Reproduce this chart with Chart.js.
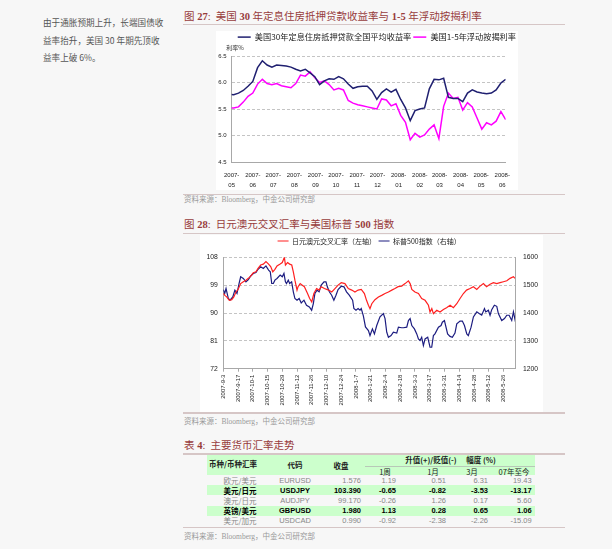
<!DOCTYPE html>
<html><head><meta charset="utf-8">
<script src="https://cdn.jsdelivr.net/npm/chart.js@4.4.1/dist/chart.umd.min.js"></script>
<style>
body{margin:0;width:612px;height:549px;background:#f7f7f7;position:relative;overflow:hidden;font-family:'Liberation Sans','Noto Sans CJK SC',sans-serif}
.abs{position:absolute;white-space:nowrap}
.para{left:43px;top:14.4px;font-size:8.6px;line-height:17.2px;color:#555;font-family:'Noto Sans CJK SC',sans-serif}
.title{left:184px;font-size:10.5px;line-height:13px;color:#983c3c;font-family:'Liberation Serif','Noto Sans CJK SC',serif}
.rule{left:183px;width:382px;height:1.5px;background:#d6c6c6}
.panel{background:#fff}
.src{left:184px;font-size:7.5px;line-height:9px;color:#999;font-family:'Liberation Serif','Noto Sans CJK SC',serif}
.green{background:#ccffcc}
.tc{font-size:7.5px;line-height:9px;color:#888}
.th{font-size:7.5px;line-height:9px;color:#222;font-weight:bold;font-family:'Noto Sans CJK SC',sans-serif}
</style></head>
<body>
<div class="abs para">由于通胀预期上升，长端国债收<br>益率抬升，美国 30 年期先顶收<br>益率上破 6%。</div>

<div class="abs title" style="top:9.5px">图 <b>27</b>:&nbsp; 美国 <b>30</b> 年定息住房抵押贷款收益率与 <b>1-5</b> 年浮动按揭利率</div>
<div class="abs rule" style="top:23.5px"></div>
<div class="abs panel" style="left:216px;top:31px;width:302px;height:159px"><canvas id="c1" width="302" height="159"></canvas></div>
<div class="abs rule" style="top:193.5px"></div>
<div class="abs src" style="top:194.5px">资料来源：Bloomberg，中金公司研究部</div>

<div class="abs title" style="top:217.5px">图 <b>28</b>:&nbsp; 日元澳元交叉汇率与美国标普 <b>500</b> 指数</div>
<div class="abs rule" style="top:232.5px"></div>
<div class="abs panel" style="left:200px;top:235px;width:343px;height:177px"><canvas id="c2" width="343" height="177"></canvas></div>
<div class="abs rule" style="top:412px"></div>
<div class="abs src" style="top:417px">资料来源：Bloomberg，中金公司研究部</div>

<div class="abs title" style="top:438.5px">表 <b>4</b>:&nbsp; 主要货币汇率走势</div>
<div class="abs rule" style="top:453px"></div>
<div id="tbl"></div>
<div class="abs rule" style="top:526.5px"></div>
<div class="abs src" style="top:531.5px">资料来源：Bloomberg，中金公司研究部</div>

<script>
// ---------- Chart 1 data (weekly) ----------
const mortDates = ['2007-04-27','2007-05-04','2007-05-11','2007-05-18','2007-05-25','2007-06-01','2007-06-08','2007-06-15','2007-06-22','2007-06-29',
 '2007-07-06','2007-07-13','2007-07-20','2007-07-27','2007-08-03','2007-08-10','2007-08-17','2007-08-24','2007-08-31','2007-09-07',
 '2007-09-14','2007-09-21','2007-09-28','2007-10-05','2007-10-12','2007-10-19','2007-10-26','2007-11-02','2007-11-09','2007-11-16',
 '2007-11-23','2007-11-30','2007-12-07','2007-12-14','2007-12-21','2007-12-28','2008-01-04','2008-01-11','2008-01-18','2008-01-25',
 '2008-02-01','2008-02-08','2008-02-15','2008-02-22','2008-02-29','2008-03-07','2008-03-14','2008-03-21','2008-03-28','2008-04-04',
 '2008-04-11','2008-04-18','2008-04-25','2008-05-02','2008-05-09','2008-05-16','2008-05-23','2008-05-30','2008-06-06'];
const mort30Fixed = [5.78,5.77,5.80,5.85,5.93,6.02,6.28,6.41,6.33,6.29,
 6.33,6.32,6.31,6.29,6.25,6.22,6.25,6.18,6.11,5.96,
 6.03,6.07,6.06,6.11,6.07,5.97,5.89,5.92,5.93,5.93,
 5.84,5.68,5.81,5.88,5.82,5.87,5.68,5.52,5.28,5.47,
 5.50,5.52,5.88,6.06,6.05,6.08,5.72,5.70,5.70,5.64,
 5.80,5.86,5.82,5.80,5.79,5.80,5.86,5.99,6.06];
const arm15 = [5.52,5.52,5.54,5.63,5.74,5.80,5.97,6.06,5.98,5.96,
 5.98,5.94,5.92,5.90,5.98,6.14,6.12,6.20,6.09,6.00,
 6.03,5.96,5.86,5.89,5.86,5.66,5.61,5.58,5.56,5.54,
 5.52,5.50,5.69,5.67,5.56,5.60,5.38,5.25,4.92,5.04,
 4.97,5.01,5.12,5.20,4.94,5.55,5.80,5.70,5.72,5.48,
 5.62,5.54,5.33,5.12,5.24,5.20,5.27,5.45,5.30];
const monthLabels = ['2007-05','2007-06','2007-07','2007-08','2007-09','2007-10','2007-11','2007-12','2008-01','2008-02','2008-03','2008-04','2008-05','2008-06'];
const mortSeriesNames = ['美国30年定息住房抵押贷款全国平均收益率','美国1-5年浮动按揭利率'];

// ---------- Chart 2 data ----------
const fxSeriesNames = ['日元澳元交叉汇率（左轴）','标普500指数（右轴）'];
const fxBase = '2007-9-3';
const fxTickLabels = ['2007-9-3','2007-9-17','2007-10-1','2007-10-15','2007-10-29','2007-11-12','2007-11-26','2007-12-10','2007-12-24','2008-1-7',
 '2008-1-21','2008-2-4','2008-2-18','2008-3-3','2008-3-17','2008-3-31','2008-4-14','2008-4-28','2008-5-12','2008-5-26'];
const fxEndDate = '2008-6-6';
// days after 2007-9-3
const audjpyDay = [0,1.5,3.2,5.7,8,10,12,14,16.5,19,21.5,23.8,26,28.5,31,33,35.5,38,40.5,43,45,47,49,51,54,56,58,59,61,63,65,66.5,68,70,71,73,75,77,80,82,84,86,88.6,91,93,96,100,103,106,109,112,115.5,118.7,122,125,128,131,134,136,137.8,139.3,141,144,147.3,150.4,153.6,156.8,160,163,166,169.4,172.6,175.8,177.4,179,182,185.3,188.4,191.6,194.8,196.3,198,199.5,202.7,205.8,209,212,215.4,218.5,221.7,224.8,228,231,234.3,237.5,240.7,243.8,247,250,253.3,256.5,259.7,262.8,266,269.2,272.3,275.5,277];
const audjpy = [96.3,95.7,95.2,94.1,94.3,95.2,96.8,97.6,99.5,100.1,100.6,101.2,101.9,103,103.3,104.4,105.5,105.8,106.6,105.8,105,103.3,104.1,105.2,105.8,106.3,108,105.5,106.3,105.8,105.5,103.3,100.6,97.4,98.5,99.5,99,98.5,96.3,94.7,93.6,96.3,97.9,97.4,98.5,97.9,97.4,96.8,97.9,99,99.8,99.5,97.9,97.4,96.8,97.4,97.6,96.3,94.1,92.5,91.4,93,94.3,95.2,95.7,96.3,96.8,97.4,97.9,98.5,98.7,99.5,100.4,99.5,97.6,96.8,96.3,94.7,94.1,92.5,90.3,91.4,89.8,90.9,90.3,91.1,91.7,92.5,91.7,93,94.7,96.3,97.4,97.9,98.5,97.6,98.7,99.5,98.5,99.3,99.8,99.5,99.8,100.1,100.4,101.2,101.7,101.2];
const spxDay = [0,1.3,2.6,4.8,6.4,9,11,13,15,16.5,19,21.5,23.8,26,28.5,31,33,35.5,38,40.5,43,44.6,46,47.5,49,51,54,56,57.6,59,60,61.7,63,64.9,66.5,68,70,72,74,76.6,79,81.7,83.9,85.5,87,89,91,93,95.6,97.5,98.8,100.7,102.9,105,107,109,112,114.6,117,119.6,122.8,124,126,128,129.8,131,133,135,137.8,139.3,141.6,143.5,145.7,148.8,152,153.6,155.2,156.8,159.3,161.5,164.7,166.3,169.4,171,174.2,175.8,177.4,179,181.5,183.7,185.3,186.8,188.4,190,191.6,194.1,196.3,197.9,199.5,201,204.3,206.8,208,210,213,215.3,217.5,220,221.7,224.8,227,229,231.2,232.7,235.3,237.5,240.7,242.9,245.4,248,249.2,251.7,253.3,254.9,257.4,259.7,261.2,264.4,267,269.2,271.4,273.9,275.5,277.5];
const spx = [1484,1470,1488,1452,1446,1458,1482,1470,1506,1530,1524,1512,1520,1533,1542,1545,1557,1566,1560,1569,1554,1548,1506,1506,1518,1524,1536,1530,1542,1512,1506,1518,1506,1512,1476,1452,1446,1452,1436,1446,1428,1422,1410,1434,1470,1482,1476,1500,1512,1512,1494,1476,1464,1446,1464,1484,1496,1494,1476,1464,1446,1416,1410,1416,1410,1416,1390,1350,1337,1319,1343,1325,1355,1386,1398,1380,1331,1313,1319,1331,1328,1349,1347,1347,1349,1373,1380,1355,1343,1325,1307,1301,1313,1283,1307,1313,1277,1277,1319,1325,1349,1355,1367,1373,1325,1316,1313,1328,1361,1371,1371,1355,1325,1319,1349,1386,1404,1398,1392,1416,1404,1410,1392,1412,1428,1424,1398,1373,1380,1392,1392,1373,1404,1367];

// ---------- Table data ----------
const fxNames = ['欧元/美元','美元/日元','澳元/日元','英镑/美元','美元/加元'];
const fxCodes = ['EURUSD','USDJPY','AUDJPY','GBPUSD','USDCAD'];
const fxClose = ['1.576','103.390','99.170','1.980','0.990'];
const chg1W = ['1.19','-0.65','-0.26','1.13','-0.92'];
const chg1M = ['0.51','-0.82','1.26','0.28','-2.38'];
const chg3M = ['6.31','-3.53','0.17','0.65','-2.26'];
const chgYTD = ['19.43','-13.17','5.60','1.06','-15.09'];

// ---------- helpers ----------
function dayDiff(a, b) {
  const pa = a.split('-').map(Number), pb = b.split('-').map(Number);
  return (Date.UTC(pa[0], pa[1] - 1, pa[2]) - Date.UTC(pb[0], pb[1] - 1, pb[2])) / 864e5;
}
const SANS = "'Liberation Sans', 'Noto Sans CJK SC', sans-serif";
const CJK = "'Noto Sans CJK SC', sans-serif";
Chart.defaults.font.family = SANS;
Chart.defaults.color = '#222';

function legendSpace(extra) {
  return { id: 'legendSpace', afterInit(chart) {
    const lg = chart.legend; const orig = lg.fit;
    lg.fit = function () { orig.call(this); this.height += extra; };
  }};
}
const unitLabel = { id: 'unitLabel', afterDraw(chart) {
  const { ctx, chartArea } = chart;
  ctx.save(); ctx.font = '6px ' + CJK; ctx.fillStyle = '#333';
  ctx.textAlign = 'left'; ctx.textBaseline = 'middle';
  ctx.fillText('利率%', chartArea.left - 5.5, chartArea.top - 8);
  ctx.restore();
}};

// ---------- Chart 1 ----------
const base1 = '2007-05-01';
const monthTickVals = monthLabels.map(m => dayDiff(m + '-01', base1));
new Chart(document.getElementById('c1'), {
  type: 'line',
  data: { datasets: [
    { label: mortSeriesNames[0], data: mortDates.map((d, i) => ({ x: dayDiff(d, base1), y: mort30Fixed[i] })),
      borderColor: '#1f1f70', backgroundColor: '#1f1f70', borderWidth: 1.5, pointRadius: 0, tension: 0, yAxisID: 'y' },
    { label: mortSeriesNames[1], data: mortDates.map((d, i) => ({ x: dayDiff(d, base1), y: arm15[i] })),
      borderColor: '#ff00ff', backgroundColor: '#ff00ff', borderWidth: 1.5, pointRadius: 0, tension: 0, yAxisID: 'y' }
  ]},
  options: {
    responsive: false, animation: false, events: [],
    layout: { padding: { left: 0, right: 0, top: 0, bottom: 0 } },
    plugins: {
      legend: { display: true, align: 'end',
        labels: { usePointStyle: true, pointStyle: 'line', pointStyleWidth: 13, padding: 2,
          font: { size: 8.2, family: CJK }, color: '#222' } },
      tooltip: { enabled: false }
    },
    scales: {
      x: { type: 'linear', min: 0, max: dayDiff(mortDates[mortDates.length - 1], base1),
        afterBuildTicks: s => { s.ticks = monthTickVals.map(v => ({ value: v })); },
        ticks: { autoSkip: false, maxRotation: 0, minRotation: 0, padding: 8,
          font: { size: 6, lineHeight: 1.65 }, color: '#222',
          callback: (v, i) => { const m = monthLabels[i]; return m ? [m.slice(0, 5), m.slice(5)] : ''; } },
        grid: { display: false, drawTicks: false },
        border: { display: true, color: '#a8a8a8', width: 1 },
        afterFit: s => { s.height = 28; } },
      y: { position: 'left', min: 4.5, max: 6.5,
        ticks: { stepSize: 0.5, padding: 5, font: { size: 6 }, color: '#222' },
        grid: { color: '#c4c4c4', lineWidth: 1, drawTicks: false },
        border: { display: true, color: '#a8a8a8', dash: [3, 2] },
        afterFit: s => { s.width = 14.7; } },
      pad: { position: 'right', display: true, min: 0, max: 1,
        ticks: { display: false }, grid: { display: false, drawTicks: false },
        border: { display: false }, afterFit: s => { s.width = 6.3; } }
    }
  },
  plugins: [legendSpace(4.8), unitLabel]
});

// ---------- Chart 2 ----------
const fxTickVals = fxTickLabels.map(l => dayDiff(l, fxBase));
new Chart(document.getElementById('c2'), {
  type: 'line',
  data: { datasets: [
    { label: fxSeriesNames[0], data: audjpyDay.map((d, i) => ({ x: d, y: audjpy[i] })),
      borderColor: '#ff2020', backgroundColor: '#ff2020', borderWidth: 1.2, pointRadius: 0, tension: 0, yAxisID: 'y' },
    { label: fxSeriesNames[1], data: spxDay.map((d, i) => ({ x: d, y: spx[i] })),
      borderColor: '#1c1c80', backgroundColor: '#1c1c80', borderWidth: 1.2, pointRadius: 0, tension: 0, yAxisID: 'y2' }
  ]},
  options: {
    responsive: false, animation: false, events: [],
    layout: { padding: 0 },
    plugins: {
      legend: { display: true, align: 'center', fullSize: false,
        labels: { usePointStyle: true, pointStyle: 'line', pointStyleWidth: 11, padding: 2.5,
          font: { size: 7, family: CJK }, color: '#222' } },
      tooltip: { enabled: false }
    },
    scales: {
      x: { type: 'linear', min: 0, max: dayDiff(fxEndDate, fxBase),
        afterBuildTicks: s => { s.ticks = fxTickVals.map(v => ({ value: v })); },
        ticks: { autoSkip: false, maxRotation: 90, minRotation: 90, padding: 3,
          font: { size: 6 }, color: '#222',
          callback: (v, i) => fxTickLabels[i] || '' },
        grid: { display: true, drawOnChartArea: false, drawTicks: true, tickLength: 3, color: '#a8a8a8' },
        border: { display: true, color: '#a8a8a8' },
        afterFit: s => { s.height = 43.3; } },
      y: { position: 'left', min: 72, max: 108,
        ticks: { stepSize: 9, padding: 5.5, font: { size: 6.8 }, color: '#222' },
        grid: { color: '#c4c4c4', drawTicks: false },
        border: { display: true, color: '#a8a8a8', dash: [3, 2] },
        afterFit: s => { s.width = 23.3; } },
      y2: { position: 'right', min: 1200, max: 1600,
        ticks: { stepSize: 100, padding: 8, font: { size: 6.8 }, color: '#222', callback: v => String(v) },
        grid: { display: false, drawTicks: false },
        border: { display: true, color: '#a8a8a8' },
        afterFit: s => { s.width = 28; } }
    }
  },
  plugins: [legendSpace(2.8)]
});

// ---------- Table ----------
(function () {
  const t = document.getElementById('tbl');
  function box(cls, l, tp, w, h) { const d = document.createElement('div'); d.className = 'abs ' + cls;
    d.style.left = l + 'px'; d.style.top = tp + 'px'; d.style.width = w + 'px'; d.style.height = h + 'px'; t.appendChild(d); return d; }
  function txt(s, x, y, align, cls, extra) {
    const d = document.createElement('div'); d.className = 'abs ' + cls; d.textContent = s;
    d.style.top = (y - 4.5) + 'px';
    if (align === 'center') { d.style.left = (x - 60) + 'px'; d.style.width = '120px'; d.style.textAlign = 'center'; }
    else if (align === 'right') { d.style.right = (612 - x) + 'px'; d.style.textAlign = 'right'; }
    else { d.style.left = x + 'px'; }
    if (extra) Object.assign(d.style, extra);
    t.appendChild(d);
  }
  box('green', 207, 454.5, 328, 20.5);
  const hl = box('', 365, 466, 170, 0.8); hl.style.background = '#b8c8b8';
  txt('币种/币种汇率', 233, 463.5, 'center', 'th');
  txt('代码', 295, 464, 'center', 'th');
  txt('收盘', 341, 465, 'center', 'th');
  txt('升值(+)/贬值(-)', 431, 459.5, 'center', 'th');
  txt('幅度 (%)', 481, 459.5, 'center', 'th');
  txt('1周', 385, 471, 'center', 'th', { fontWeight: 'normal' });
  txt('1月', 433, 471, 'center', 'th', { fontWeight: 'normal' });
  txt('3月', 472, 471, 'center', 'th', { fontWeight: 'normal' });
  txt('07年至今', 514, 471, 'center', 'th', { fontWeight: 'normal' });
  const rowY = [480, 490.2, 500.4, 510.6, 520.8];
  fxNames.forEach((n, i) => {
    const strong = (i % 2 === 1);
    const y = rowY[i];
    if (strong) box('green', 207, y - 5.1, 328, 10.2);
    const ex = strong ? { color: '#000', fontWeight: 'bold' } : null;
    txt(n, 240, y, 'center', 'tc', Object.assign({ fontFamily: CJK }, ex || {}));
    txt(fxCodes[i], 295, y, 'center', 'tc', ex);
    txt(fxClose[i], 361, y, 'right', 'tc', ex);
    txt(chg1W[i], 396, y, 'right', 'tc', ex);
    txt(chg1M[i], 446, y, 'right', 'tc', ex);
    txt(chg3M[i], 488, y, 'right', 'tc', ex);
    txt(chgYTD[i], 531.7, y, 'right', 'tc', ex);
  });
})();
</script>
</body></html>
